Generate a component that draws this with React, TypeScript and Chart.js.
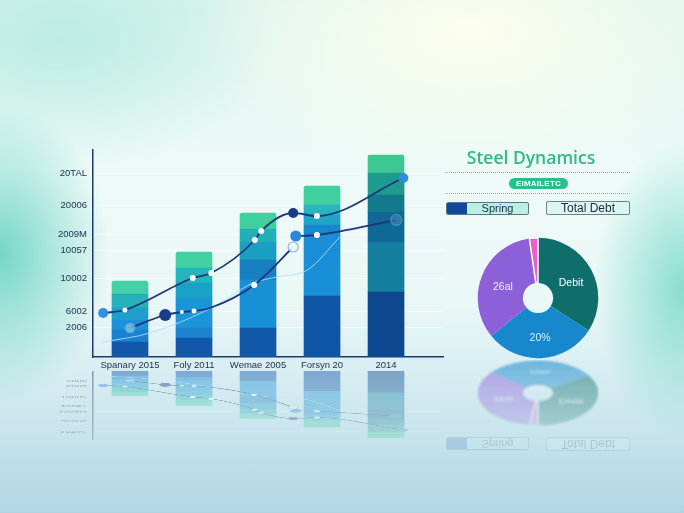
import React, { useEffect, useRef } from 'react';
import { Chart, registerables } from 'chart.js';

Chart.register(...registerables);
Chart.defaults.font.family = '"Liberation Sans", Arial, sans-serif';

// ---------- data ----------
const categories = ['Spanary 2015', 'Foly 2011', 'Wemae 2005', 'Forsyn 20', '2014'];

const yTickValues = [1840, 1520, 1230, 1070, 790, 460, 300];
const yTickLabels = ['20TAL', '20006', '2009M', '10057', '10002', '6002', '2006'];

// stacked segments, bottom -> top
const seg1 = [150, 190, 290, 610, 650];
const seg2 = [120, 100, 480, 610, 500];
const seg3 = [100, 300, 200, 100, 300];
const seg4 = [120, 150, 180, 100, 170];
const seg5 = [140, 150, 130, 100, 220];
const seg6 = [130, 160, 160, 190, 180];

const seg1Colors = ['#1357a8', '#1257aa', '#1258a8', '#0f55a6', '#0d4890'];
const seg2Colors = ['#1a80d0', '#1b82d2', '#1990d6', '#1a8ed6', '#147e9e'];
const seg3Colors = ['#1b92d8', '#1a96d8', '#1680c2', '#1888cc', '#0f6896'];
const seg4Colors = ['#1e9fcc', '#1aa2c6', '#1a9ec2', '#1fa3c6', '#137a8c'];
const seg5Colors = ['#26b2b8', '#24b4bc', '#22b0b8', '#27b6bf', '#1f9a8e'];
const seg6Colors = ['#44d0a6', '#42d1a4', '#3fd0a0', '#40cf9f', '#3cc890'];

// upper line
const lineAX = [-0.42, -0.08, 0.98, 1.27, 1.95, 2.05, 2.55, 2.92, 4.27];
const lineAY = [440, 470, 790, 840, 1170, 1260, 1440, 1410, 1790];
// lower line (null = break)
const lineBX = [0, 0.55, 0.81, 1.0, 1.25, 1.94, 2.55, 2.57, 2.59, 2.92, 4.16];
const lineBY = [290, 420, 450, 460, 490, 720, 1100, null, 1210, 1220, 1370];
// faint line
const lineCX = [-0.42, 0.31, 1.3, 1.92, 2.3, 2.77, 3.28];
const lineCY = [150, 240, 500, 740, 800, 870, 1200];

const pieCategories = ['Debit', '20%', '26al', 'Other'];
const pieValues = [34, 30, 33.5, 2.3];
const pieLabels = ['Debit', '20%', '26al', ''];

// ---------- styles ----------
const axisColor = '#1e3a68';
const tickColor = '#23324d';
const pieColors = ['#0f6e6c', '#1888cc', '#8d5fd9', '#e563c9'];
const pieLabelColors = ['#ffffff', '#d8ecff', '#f4ecff', '#ffffff'];

function barConfig(): any {
  const segs = [seg1, seg2, seg3, seg4, seg5, seg6];
  const cols = [seg1Colors, seg2Colors, seg3Colors, seg4Colors, seg5Colors, seg6Colors];
  const barSets = segs.map((vals, i) => ({
    type: 'bar',
    data: vals.map((v, j) => ({ x: j, y: v })),
    backgroundColor: cols[i],
    barThickness: 36,
    borderWidth: 0,
    borderRadius: i === segs.length - 1 ? { topLeft: 2, topRight: 2, bottomLeft: 0, bottomRight: 0 } : 0,
    borderSkipped: false,
    order: 3,
    xAxisID: 'x',
    yAxisID: 'y',
  }));
  const lineA = {
    type: 'line',
    data: lineAX.map((x, i) => ({ x, y: lineAY[i] })),
    borderColor: '#1f3778',
    borderWidth: 1.8,
    cubicInterpolationMode: 'monotone',
    pointRadius: [5, 2.5, 3, 3, 3, 3, 5, 3, 5],
    pointBackgroundColor: ['#2f8fe0', '#ffffff', '#ffffff', '#ffffff', '#ffffff', '#ffffff', '#1c3a8c', '#ffffff', '#2f8fe0'],
    pointBorderWidth: 0,
    fill: false,
    order: 1,
    xAxisID: 'x',
    yAxisID: 'y2',
  };
  const lineB = {
    type: 'line',
    data: lineBX.map((x, i) => ({ x, y: lineBY[i] })),
    borderColor: '#1f3778',
    borderWidth: 1.8,
    cubicInterpolationMode: 'monotone',
    spanGaps: false,
    pointRadius: [5, 6, 2, 2.5, 0, 3, 5, 0, 5.5, 3, 5.5],
    pointBackgroundColor: ['rgba(130,200,230,0.75)', '#1b3a8c', '#ffffff', '#ffffff', '#ffffff', '#ffffff', 'rgba(240,250,255,0.9)', '#ffffff', '#2a86dc', '#ffffff', 'rgba(70,150,190,0.45)'],
    pointBorderColor: ['#4aa0d0', '#1b3a8c', '#fff', '#fff', '#fff', '#fff', '#8ab8d8', '#fff', '#2a86dc', '#fff', '#4a90b8'],
    pointBorderWidth: [1.2, 0, 0, 0, 0, 0, 1.2, 0, 0, 0, 1.2],
    fill: false,
    order: 1,
    xAxisID: 'x',
    yAxisID: 'y2',
  };
  const lineC = {
    type: 'line',
    data: lineCX.map((x, i) => ({ x, y: lineCY[i] })),
    borderColor: 'rgba(175,228,248,0.85)',
    borderWidth: 1,
    cubicInterpolationMode: 'monotone',
    pointRadius: 0,
    fill: false,
    order: 2,
    xAxisID: 'x',
    yAxisID: 'y2',
  };
  return {
    type: 'bar',
    data: { datasets: [...barSets, lineC, lineB, lineA] },
    options: {
      responsive: false,
      animation: false,
      events: [],
      layout: { padding: { left: 0, right: 27, top: 150, bottom: 13 } },
      plugins: { legend: { display: false }, tooltip: { enabled: false } },
      scales: {
        x: {
          type: 'linear',
          min: -0.578,
          max: 4.89,
          offset: false,
          stacked: true,
          grid: { display: false, drawTicks: false, offset: false },
          border: { display: true, color: axisColor, width: 1.5 },
          afterBuildTicks: (s: any) => {
            s.ticks = categories.map((_, i) => ({ value: i }));
          },
          afterFit: (s: any) => {
            s.height = 30;
          },
          ticks: {
            autoSkip: false,
            maxRotation: 0,
            minRotation: 0,
            padding: 3,
            color: tickColor,
            font: { size: 9.5 },
            callback: (v: any) => categories[Math.round(Number(v))] ?? '',
          },
        },
        y: {
          type: 'linear',
          min: 0,
          max: 2070,
          stacked: true,
          grid: { display: true, drawTicks: false, color: 'rgba(255,255,255,0.55)', lineWidth: 1 },
          border: { display: true, color: axisColor, width: 1.5 },
          afterBuildTicks: (s: any) => {
            s.ticks = yTickValues.map((v) => ({ value: v }));
          },
          afterFit: (s: any) => {
            s.width = 93;
          },
          ticks: {
            padding: 6,
            color: tickColor,
            font: { size: 9.5 },
            callback: (_v: any, i: number) => yTickLabels[i] ?? '',
          },
        },
        y2: { type: 'linear', min: 0, max: 2070, display: false },
      },
    },
  };
}

const pieLabelPlugin = {
  id: 'pieLabels',
  afterDatasetsDraw(chart: any) {
    const meta = chart.getDatasetMeta(0);
    const ctx = chart.ctx;
    meta.data.forEach((arc: any, i: number) => {
      const t = pieLabels[i];
      if (!t) return;
      const p = arc.tooltipPosition(true);
      ctx.save();
      ctx.fillStyle = pieLabelColors[i];
      ctx.font = '10.5px "Liberation Sans", Arial, sans-serif';
      ctx.textAlign = 'center';
      ctx.textBaseline = 'middle';
      ctx.fillText(t, p.x, p.y + 3);
      ctx.restore();
    });
  },
};

function pieConfig(): any {
  return {
    type: 'doughnut',
    data: {
      labels: pieCategories,
      datasets: [
        {
          data: pieValues,
          backgroundColor: pieColors,
          borderColor: '#ffffff',
          borderWidth: [0, 0, 0, 1.5],
        },
      ],
    },
    options: {
      responsive: false,
      animation: false,
      events: [],
      cutout: '25%',
      rotation: 0,
      layout: { padding: 0 },
      plugins: { legend: { display: false }, tooltip: { enabled: false } },
    },
    plugins: [pieLabelPlugin],
  };
}

const BAR_W = 470;
const BAR_H = 400;
const PIE_S = 122;

function LegendBlock() {
  return (
    <>
      <div
        style={{
          position: 'absolute', left: 446, top: 202, width: 83, height: 13, boxSizing: 'border-box',
          border: '1px solid #56778e', borderRadius: 2, background: '#bdeee2', overflow: 'hidden',
        }}
      >
        <div style={{ position: 'absolute', left: 0, top: 0, width: 20, height: '100%', background: '#12489a' }} />
        <div
          style={{
            position: 'absolute', left: 20, right: 0, top: 0, height: '100%', textAlign: 'center',
            fontFamily: '"Liberation Sans", Arial, sans-serif', fontSize: 11, lineHeight: '11px', color: '#1e2e48',
          }}
        >
          Spring
        </div>
      </div>
      <div
        style={{
          position: 'absolute', left: 546, top: 201, width: 84, height: 14, boxSizing: 'border-box',
          border: '1px solid #6a8494', borderRadius: 2, background: '#dcf5ee', textAlign: 'center',
          fontFamily: '"Liberation Sans", Arial, sans-serif', fontSize: 12, lineHeight: '12px', color: '#1c2c40',
        }}
      >
        Total Debt
      </div>
    </>
  );
}

export default function App() {
  const barRef = useRef<HTMLCanvasElement>(null);
  const barReflRef = useRef<HTMLCanvasElement>(null);
  const pieRef = useRef<HTMLCanvasElement>(null);
  const pieReflRef = useRef<HTMLCanvasElement>(null);

  useEffect(() => {
    const charts: Chart[] = [];
    if (barRef.current) charts.push(new Chart(barRef.current, barConfig()));
    if (barReflRef.current) charts.push(new Chart(barReflRef.current, barConfig()));
    if (pieRef.current) charts.push(new Chart(pieRef.current, pieConfig()));
    if (pieReflRef.current) charts.push(new Chart(pieReflRef.current, pieConfig()));
    return () => charts.forEach((c) => c.destroy());
  }, []);

  const barS = 0.33;
  const pieS = 0.54;

  return (
    <div
      style={{
        position: 'absolute', left: 0, top: 0, width: 684, height: 513, overflow: 'hidden',
        background: [
          'radial-gradient(ellipse 110px 150px at 0px 255px, rgba(110,212,196,0.95), rgba(110,212,196,0))',
          'radial-gradient(ellipse 90px 150px at 684px 290px, rgba(125,218,202,0.9), rgba(125,218,202,0))',
          'radial-gradient(ellipse 280px 150px at 470px 30px, rgba(255,255,238,0.95), rgba(255,255,238,0))',
          'radial-gradient(ellipse 220px 130px at 60px 40px, rgba(178,234,222,0.8), rgba(178,234,222,0))',
          'linear-gradient(to bottom, #ddf4ef 0%, #eefaf8 35%, #e9f7f6 60%, #cbe6ee 82%, #b2d5e5 100%)',
        ].join(','),
      }}
    >
      {/* bar reflection */}
      <div
        style={{
          position: 'absolute', left: 0, top: 371, width: BAR_W, height: 142, overflow: 'hidden', opacity: 0.45,
          WebkitMaskImage: 'linear-gradient(to bottom, rgba(0,0,0,1), rgba(0,0,0,0))',
          maskImage: 'linear-gradient(to bottom, rgba(0,0,0,1), rgba(0,0,0,0))',
          filter: 'blur(0.6px)',
        }}
      >
        <div
          style={{
            position: 'absolute', left: 0, top: 0, width: BAR_W, height: BAR_H, transformOrigin: '0 0',
            transform: `translateY(${(barS * 357).toFixed(1)}px) scaleY(${-barS})`,
          }}
        >
          <canvas ref={barReflRef} width={BAR_W} height={BAR_H} style={{ display: 'block' }} />
        </div>
      </div>

      {/* pie reflection */}
      <div
        style={{
          position: 'absolute', left: 477, top: 360, width: PIE_S, height: 80, overflow: 'hidden', opacity: 0.55,
          WebkitMaskImage: 'linear-gradient(to bottom, rgba(0,0,0,1), rgba(0,0,0,0.25))',
          maskImage: 'linear-gradient(to bottom, rgba(0,0,0,1), rgba(0,0,0,0.25))',
          filter: 'blur(0.8px)',
        }}
      >
        <div
          style={{
            position: 'absolute', left: 0, top: 0, width: PIE_S, height: PIE_S, transformOrigin: '0 0',
            transform: `translateY(${(pieS * PIE_S).toFixed(1)}px) scaleY(${-pieS})`,
          }}
        >
          <canvas ref={pieReflRef} width={PIE_S} height={PIE_S} style={{ display: 'block' }} />
        </div>
      </div>

      {/* legend reflection */}
      <div
        style={{
          position: 'absolute', left: 0, top: 0, width: 684, height: 513, opacity: 0.16, filter: 'blur(0.7px)',
          transformOrigin: '0 0', transform: 'translateY(652px) scaleY(-1)',
        }}
      >
        <LegendBlock />
      </div>

      {/* main bar chart */}
      <canvas ref={barRef} width={BAR_W} height={BAR_H} style={{ position: 'absolute', left: 0, top: 0, display: 'block' }} />

      {/* pie */}
      <canvas ref={pieRef} width={PIE_S} height={PIE_S} style={{ position: 'absolute', left: 477, top: 237, display: 'block' }} />

      {/* title block */}
      <div
        style={{
          position: 'absolute', left: 431, top: 147, width: 200, textAlign: 'center',
          fontFamily: '"Open Sans", "Liberation Sans", sans-serif', fontWeight: 600, fontSize: 17.5, lineHeight: '20px',
          color: '#2dbb88',
        }}
      >
        Steel Dynamics
      </div>
      <div style={{ position: 'absolute', left: 445, top: 172, width: 185, borderTop: '1px dotted #86aeb4' }} />
      <div
        style={{
          position: 'absolute', left: 509, top: 178, width: 59, height: 11, borderRadius: 6, background: '#27bf8c',
          textAlign: 'center', color: '#ffffff', fontFamily: '"Liberation Sans", Arial, sans-serif', fontWeight: 700,
          fontSize: 8, lineHeight: '11px', letterSpacing: 0.2,
        }}
      >
        EIMAILETC
      </div>
      <div style={{ position: 'absolute', left: 445, top: 193, width: 185, borderTop: '1px dotted #86aeb4' }} />
      <LegendBlock />
    </div>
  );
}
